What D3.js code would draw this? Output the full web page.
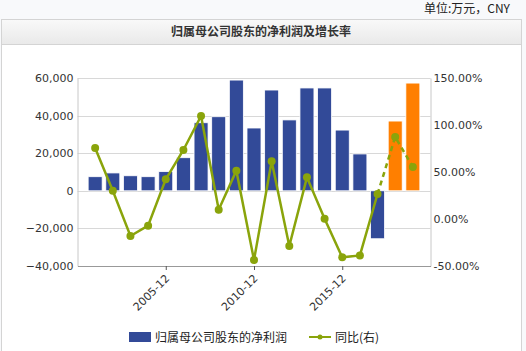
<!DOCTYPE html>
<html>
<head>
<meta charset="utf-8">
<script src="https://cdn.jsdelivr.net/npm/d3@7"></script>
<style>
  body { margin: 0; background: #f8f9fb; }
  text { font-family: "DejaVu Sans", sans-serif; }
  .cjk { font-family: "Noto Sans CJK SC", sans-serif; }
</style>
</head>
<body>
<script>
let years = [2001, 2002, 2003, 2004, 2005, 2006, 2007, 2008, 2009, 2010,
             2011, 2012, 2013, 2014, 2015, 2016, 2017, 2018, 2019];
let profit = [7500, 9500, 8000, 7500, 10200, 17600, 36200, 39400, 58900, 33400,
              53600, 37700, 54700, 54700, 32300, 19600, -25500, 37100, 57300];
let growth = [75.5, 30.1, -18.1, -7.1, 42.2, 73.4, 109.6, 9.9, 51.4, -43.6,
              61.4, -28.7, 44.3, 0.3, -40.8, -38.7, 26.6, 87.2, 55.3];
let estYears = [2018, 2019];
let xTicks = [2005, 2010, 2015];
let leftTicks = [-40000, -20000, 0, 20000, 40000, 60000];
let rightTicks = [-50, 0, 50, 100, 150];

let width = 526,
    height = 351;

let plot = { left: 77.5, right: 430.5, top: 78, bottom: 266 };

let svg = d3.select('body')
    .append("svg")
    .attr("width", width)
    .attr("height", height);

// unit text
svg.append("text")
    .attr("class", "cjk")
    .attr("x", 510)
    .attr("y", 13)
    .attr("text-anchor", "end")
    .style("font-size", "12px")
    .attr("fill", "#222")
    .text("单位:万元，CNY");

// frame
svg.append("rect")
    .attr("x", 1.5).attr("y", 19.5)
    .attr("width", 520).attr("height", 340)
    .attr("fill", "#fff")
    .attr("stroke", "#d4d4d4");

let grad = svg.append("defs").append("linearGradient")
    .attr("id", "tg").attr("x1", 0).attr("y1", 0).attr("x2", 0).attr("y2", 1);
grad.append("stop").attr("offset", "0%").attr("stop-color", "#f9f9f9");
grad.append("stop").attr("offset", "100%").attr("stop-color", "#e9e9e9");

svg.append("rect")
    .attr("x", 1.5).attr("y", 19.5)
    .attr("width", 520).attr("height", 25)
    .attr("fill", "url(#tg)")
    .attr("stroke", "#d4d4d4");

svg.append("text")
    .attr("class", "cjk")
    .attr("x", 261)
    .attr("y", 36)
    .attr("text-anchor", "middle")
    .style("font-size", "12px")
    .style("font-weight", "bold")
    .attr("fill", "#333")
    .text("归属母公司股东的净利润及增长率");

let x = d3.scaleLinear()
    .domain([2000, 2020])
    .range([plot.left, plot.right]);

let y = d3.scaleLinear()
    .domain([-40000, 60000])
    .range([plot.bottom, plot.top]);

let y2 = d3.scaleLinear()
    .domain([-50, 150])
    .range([plot.bottom, plot.top]);

// gridlines
svg.append("g")
    .selectAll("line")
    .data(leftTicks.slice(1))
    .enter()
    .append("line")
    .attr("x1", plot.left).attr("x2", plot.right)
    .attr("y1", d => Math.round(y(d)) + 0.5)
    .attr("y2", d => Math.round(y(d)) + 0.5)
    .attr("stroke", "#d8d8d8");

// left axis
let gl = svg.append("g")
    .attr("transform", "translate(" + plot.left + ",0)")
    .call(d3.axisLeft(y).tickValues(leftTicks).tickFormat(d3.format(",")).tickSize(0).tickPadding(4));
gl.select(".domain").attr("stroke", "#c8c8c8");
gl.selectAll("text").style("font-size", "11px").attr("fill", "#333")
    .attr("font-family", "DejaVu Sans");

// right axis
let gr = svg.append("g")
    .attr("transform", "translate(" + plot.right + ",0)")
    .call(d3.axisRight(y2).tickValues(rightTicks).tickFormat(d => d.toFixed(2) + "%").tickSize(0).tickPadding(3));
gr.select(".domain").attr("stroke", "#c8c8c8");
gr.selectAll("text").style("font-size", "11px").attr("fill", "#333")
    .attr("font-family", "DejaVu Sans");

// bars
svg.append("g")
    .selectAll("rect")
    .data(years)
    .enter()
    .append("rect")
    .attr("x", d => x(d) - 7)
    .attr("y", (d, i) => y(Math.max(0, profit[i])))
    .attr("width", 14)
    .attr("height", (d, i) => Math.abs(y(profit[i]) - y(0)))
    .attr("fill", d => estYears.includes(d) ? "#ff7f00" : "#324a98")
    .attr("stroke", "#fff")
    .attr("stroke-width", 0.8);

// bottom axis
let gb = svg.append("g")
    .attr("transform", "translate(0," + plot.bottom + ")")
    .call(d3.axisBottom(x).tickValues(xTicks).tickFormat(d => d + "-12").tickSize(4).tickSizeOuter(0));
gb.select(".domain").attr("stroke", "#999");
gb.selectAll(".tick line").attr("stroke", "#555");
gb.selectAll("text")
    .style("font-size", "11px")
    .attr("fill", "#333")
    .attr("font-family", "DejaVu Sans")
    .attr("text-anchor", "end")
    .attr("y", 0)
    .attr("dy", 0)
    .attr("transform", "translate(4,13) rotate(-45)");

// growth line
let pts = years.map((d, i) => [x(d), y2(growth[i])]);
let nSolid = years.length - estYears.length;
let line = d3.line();
let lineColor = "#8aa40b";

svg.append("path")
    .attr("d", line(pts.slice(0, nSolid)))
    .attr("fill", "none")
    .attr("stroke", lineColor)
    .attr("stroke-width", 2.5);

svg.append("path")
    .attr("d", line(pts.slice(nSolid - 1)))
    .attr("fill", "none")
    .attr("stroke", lineColor)
    .attr("stroke-width", 2.5)
    .attr("stroke-dasharray", "5,4");

svg.append("g")
    .selectAll("circle")
    .data(pts)
    .enter()
    .append("circle")
    .attr("cx", d => d[0])
    .attr("cy", d => d[1])
    .attr("r", 4)
    .attr("fill", lineColor);

// legend
svg.append("rect")
    .attr("x", 129).attr("y", 332)
    .attr("width", 22).attr("height", 10)
    .attr("fill", "#324a98");
svg.append("text")
    .attr("class", "cjk")
    .attr("x", 155).attr("y", 341.5)
    .style("font-size", "12px")
    .attr("fill", "#222")
    .text("归属母公司股东的净利润");

svg.append("line")
    .attr("x1", 309).attr("x2", 331)
    .attr("y1", 337).attr("y2", 337)
    .attr("stroke", lineColor)
    .attr("stroke-width", 2);
svg.append("circle")
    .attr("cx", 320).attr("cy", 337).attr("r", 2.5)
    .attr("fill", lineColor);
svg.append("text")
    .attr("class", "cjk")
    .attr("x", 335).attr("y", 341.5)
    .style("font-size", "12px")
    .attr("fill", "#222")
    .text("同比(右)");
</script>
</body>
</html>
